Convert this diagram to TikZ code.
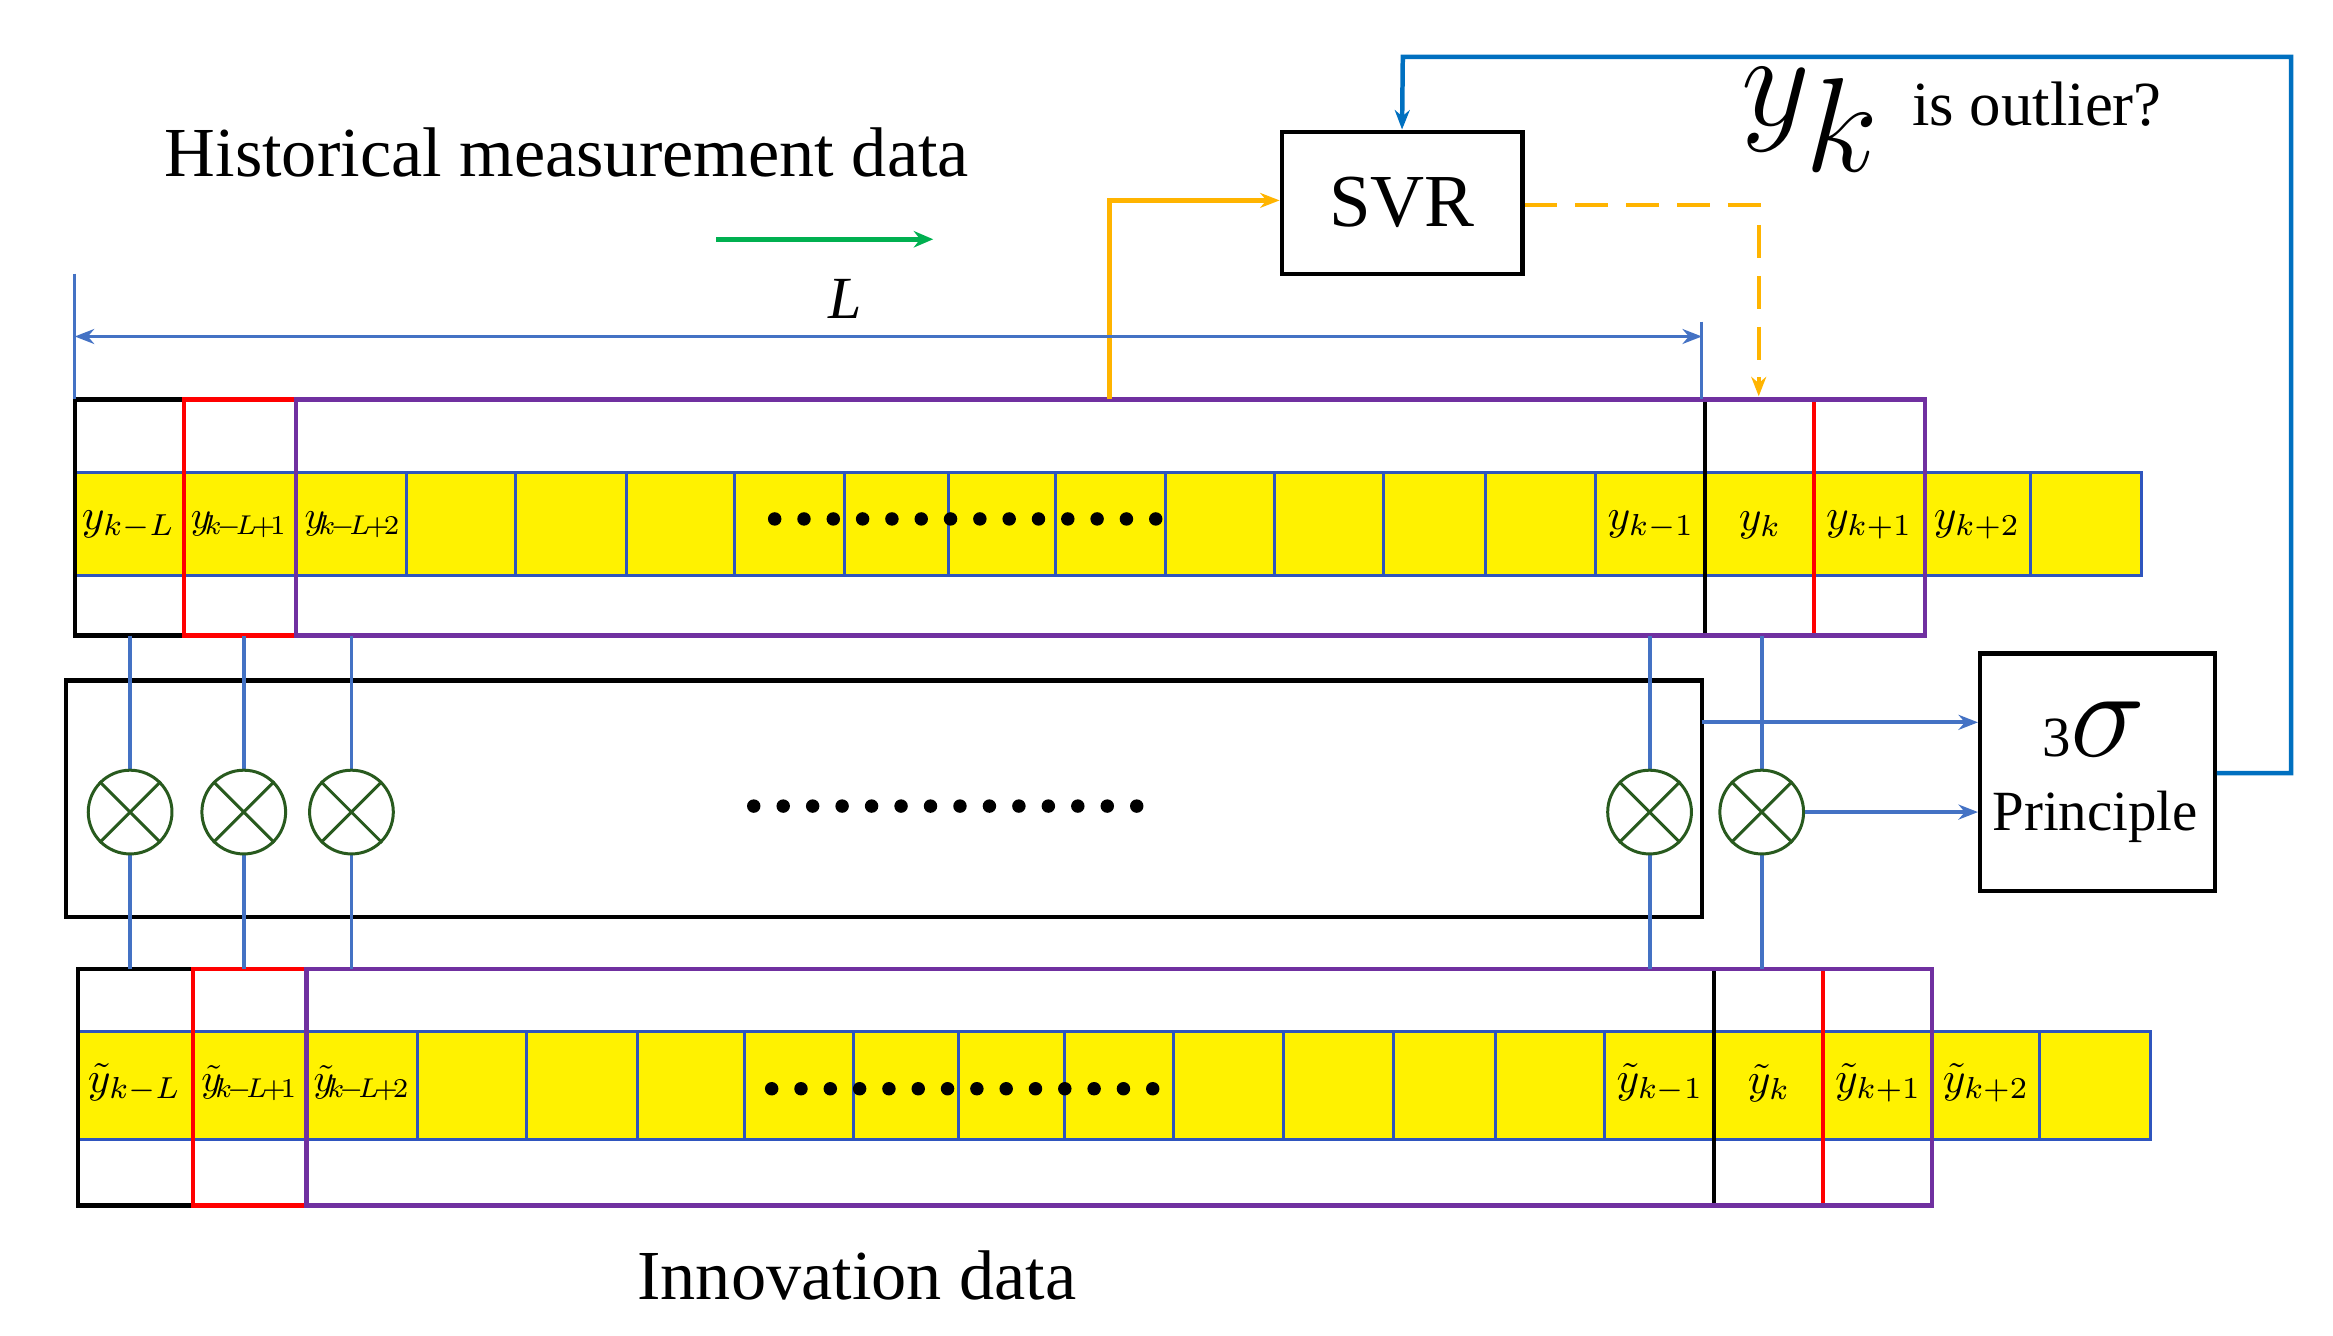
\documentclass[tikz,border=0pt]{standalone}
\usepackage{fontspec}
\setmainfont{Liberation Serif}
\usetikzlibrary{arrows.meta}
\newcommand\mybig[2]{\scalebox{#1}{$#2$}}
\definecolor{cellblue}{RGB}{47,85,190}
\definecolor{lblue}{RGB}{68,114,196}
\definecolor{dblue}{RGB}{0,112,192}
\definecolor{org}{RGB}{255,180,0}
\definecolor{grn}{RGB}{0,176,80}
\definecolor{purp}{RGB}{112,48,160}
\definecolor{dgreen}{RGB}{40,90,30}
\begin{document}
\begin{tikzpicture}[x=1pt,y=-1pt,
  cell/.style={draw=cellblue,line width=2pt,fill=yellow},
  win/.style={line width=3pt},
  conn/.style={draw=lblue,line width=2.6pt},
  arr/.style={-{Stealth[length=13pt,width=10pt]}},
  lab/.style={inner sep=0pt},
  otim/.style={circle,draw=dgreen,line width=2pt,minimum size=56pt,fill=white},
  dot/.style={circle,fill=black,inner sep=0pt,minimum size=9pt},
  box/.style={draw=black,line width=2.8pt}]
\useasboundingbox (0,0) rectangle (1560,893);
\foreach \a/\b in {50/123,123/198,198/272,272/345,345/419,419/491,491/565,565/634,634/706,706/779,779/852,852/925,925/993,993/1067,1067/1140,1140/1213,1213/1287,1287/1358,1358/1432}
  \draw[cell] (\a,316) rectangle (\b,385);
\foreach \a/\b in {52/129,129/205,205/279,279/352,352/426,426/498,498/571,571/641,641/712,712/785,785/858,858/932,932/1000,1000/1073,1073/1146,1146/1219,1219/1292,1292/1364,1364/1438}
  \draw[cell] (\a,690) rectangle (\b,762);
\node[lab] (t1) at (86,351) {\mybig{2.9}{y_{k-L}}};
\node[lab] (t2) at (160,351) {\mybig{2.6}{y_{\!k\!-\!L\!+\!1}}};
\node[lab] (t3) at (236,351) {\mybig{2.6}{y_{\!k\!-\!L\!+\!2}}};
\node[lab] (t15) at (1104,351) {\mybig{2.9}{y_{k-1}}};
\node[lab] (t16) at (1177,351) {\mybig{2.9}{y_{k}}};
\node[lab] (t17) at (1250,351) {\mybig{2.9}{y_{k+1}}};
\node[lab] (t18) at (1322,351) {\mybig{2.9}{y_{k+2}}};
\node[lab] (b1) at (90,724) {\mybig{2.9}{\tilde y_{k-L}}};
\node[lab] (b2) at (167,724) {\mybig{2.6}{\tilde y_{\!k\!-\!L\!+\!1}}};
\node[lab] (b3) at (242,724) {\mybig{2.6}{\tilde y_{\!k\!-\!L\!+\!2}}};
\node[lab] (b15) at (1110,724) {\mybig{2.9}{\tilde y_{k-1}}};
\node[lab] (b16) at (1183,724) {\mybig{2.9}{\tilde y_{k}}};
\node[lab] (b17) at (1256,724) {\mybig{2.9}{\tilde y_{k+1}}};
\node[lab] (b18) at (1328,724) {\mybig{2.9}{\tilde y_{k+2}}};
\draw[win,black] (50,267) rectangle (1140,425);
\draw[win,red] (123,267) rectangle (1213,425);
\draw[win,purp] (198,267) rectangle (1287,425);
\draw[win,black] (52,648) rectangle (1146,806);
\draw[win,red] (129,648) rectangle (1219,806);
\draw[win,purp] (205,648) rectangle (1292,806);
\foreach \i in {0,...,13} {\node[dot] (dt\i) at (518+19.6*\i,347) {};
  \node[dot] (dm\i) at (504+19.7*\i,539) {};
  \node[dot] (db\i) at (516+19.6*\i,728) {};}
\draw[box] (44,455) rectangle (1138,613);
\coordinate (mbr) at (1138,483);
\foreach \x [count=\i] in {87,163,235,1103,1178} {
  \coordinate (ct\i) at (\x,425); \coordinate (cb\i) at (\x,648);
  \draw[conn] (ct\i) -- (cb\i);
  \node[otim] (o\i) at (\x,543) {};
  \draw[dgreen,line width=2pt] (o\i.north west) -- (o\i.south east) (o\i.north east) -- (o\i.south west);}
\node[box,minimum width=161pt,minimum height=95pt,inner sep=0pt,font=\fontsize{50}{52}\selectfont] (svr) at (937.5,135.5) {SVR};
\coordinate (oin) at (742,267);
\draw[org,line width=3pt,arr] (oin) -- (742,134) -- (svr.west |- 0,134);
\coordinate (oout) at (1176,265);
\draw[org,line width=3pt,dash pattern=on 22pt off 12pt,arr] (svr.east |- 0,137) -- (1176,137) -- (oout);
\coordinate (la) at (50,225); \coordinate (lb) at (1138,225);
\draw[lblue,line width=2pt] (50,183) -- (50,267) (1138,215) -- (1138,267);
\draw[lblue,line width=2pt,{Stealth[length=13pt,width=10pt]}-{Stealth[length=13pt,width=10pt]}] (la) -- (lb);
\node[font=\fontsize{40}{42}\selectfont\itshape] (L) at (565,200) {L};
\coordinate (ga) at (479,160); \coordinate (gb) at (624,160);
\draw[grn,line width=3.5pt,-{Stealth[length=13pt,width=11pt]}] (ga) -- (gb);
\node[font=\fontsize{47}{50}\selectfont] (title) at (379,102) {Historical measurement data};
\node[font=\fontsize{47}{50}\selectfont] (innov) at (573,853) {Innovation data};
\node[font=\fontsize{42}{44}\selectfont] (q) at (1305,80) {\mybig{3.6}{y_k}\ \ is outlier?};
\node[box,minimum width=157pt,minimum height=159pt,inner sep=0pt] (sig) at (1402.5,516.5) {};
\node[font=\fontsize{38}{40}\selectfont] (s1) at (1400,488) {3\mybig{3.4}{\sigma}};
\node[font=\fontsize{38}{40}\selectfont] (s2) at (1401,546) {Principle};
\draw[conn,arr] (mbr) -- (sig.west |- mbr);
\draw[conn,arr] (o5.east) -- (sig.west |- o5.east);
\draw[dblue,line width=3pt,arr] (sig.east |- 0,517) -- (1532,517) -- (1532,38) -- (938,38) -- (svr.north);
\end{tikzpicture}
\end{document}
